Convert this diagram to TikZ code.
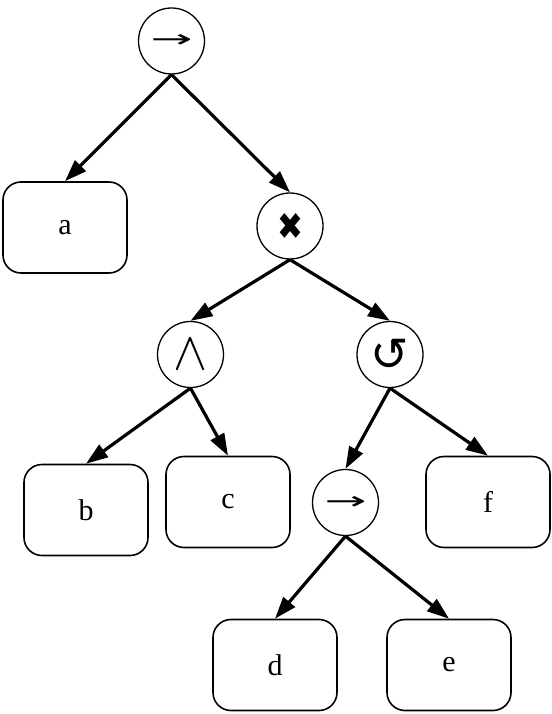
\documentclass[tikz,border=0pt]{standalone}
\usepackage{fontspec}
\usepackage{graphicx}
\setmainfont{Liberation Serif}
\newfontfamily\symfont{DejaVu Sans}
\usetikzlibrary{arrows.meta}
\tikzset{
  opnode/.style={circle, draw=black, line width=1.3pt, minimum size=66pt, inner sep=0pt},
  leafbox/.style={rectangle, rounded corners=18pt, draw=black, line width=1.6pt,
    minimum width=124pt, minimum height=91pt, inner sep=0pt,
    font=\fontsize{30}{30}\selectfont},
  edge/.style={line width=3.2pt, -{Triangle[length=22pt,width=15pt]}},
}
\newcommand{\seqsym}{\resizebox{42pt}{13pt}{\symfont →}}
\begin{document}
\begin{tikzpicture}[x=1pt,y=-1pt]
\useasboundingbox (0,0) rectangle (551,714);
\node[opnode] (root) at (171.5,41) {\seqsym};
\node[opnode] (xor) at (290,226) {\resizebox{26pt}{26pt}{\symfont ✖}};
\node[opnode] (and) at (190.5,354.5) {\resizebox{34pt}{30pt}{$\wedge$}};
\node[opnode] (loop) at (390,354.5) {\fontsize{46}{46}\selectfont\symfont ↺};
\node[opnode] (seq2) at (345.5,502.5) {\seqsym};
\node[leafbox] (a) at (65,227.5) {a};
\node[leafbox] (b) at (86,510) {b};
\node[leafbox] (c) at (228,502) {c};
\node[leafbox] (f) at (488,502) {f};
\node[leafbox] (d) at (275,665) {d};
\node[leafbox] (e) at (449,665) {e};
\draw[edge] (root.south) -- (a.north);
\draw[edge] (root.south) -- (xor.north);
\draw[edge] (xor.south) -- (and.north);
\draw[edge] (xor.south) -- (loop.north);
\draw[edge] (and.south) -- (b.north);
\draw[edge] (and.south) -- (c.north);
\draw[edge] (loop.south) -- (seq2.north);
\draw[edge] (loop.south) -- (f.north);
\draw[edge] (seq2.south) -- (d.north);
\draw[edge] (seq2.south) -- (e.north);
\end{tikzpicture}
\end{document}
